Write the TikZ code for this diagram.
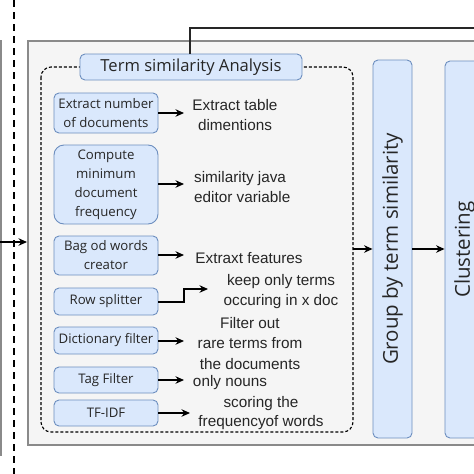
\documentclass[tikz,border=0pt]{standalone}
\usepackage{fontspec}
\setmainfont{Liberation Sans}
\newfontfamily\boxfont{Open Sans}
\usetikzlibrary{arrows.meta}
\definecolor{bfill}{HTML}{DAE8FC}
\definecolor{bline}{HTML}{6C8EBF}
\definecolor{gfill}{HTML}{F5F5F5}
\definecolor{gline}{HTML}{8A8A8A}
\begin{document}
\begin{tikzpicture}[x=1pt,y=-1pt,
  bluebox/.style={draw=bline, fill=bfill, rounded corners=5pt, line width=0.9pt,
    font=\boxfont\fontsize{13.2}{19}\selectfont, align=center, inner sep=0pt, text=black!85},
  lbl/.style={font=\fontsize{15.3}{20.5}\selectfont, align=center, inner sep=0pt, text=black!85},
  arr/.style={-{Stealth[length=8.5pt,width=7.5pt]}, line width=1.3pt},
  vtext/.style={font=\boxfont\fontsize{20.5}{22}\selectfont, rotate=90, text=black!85}]
\useasboundingbox (0,0) rectangle (474,474);
\begin{scope}
\clip (0,0) rectangle (474,474);
% left panel edge
\draw[gline, line width=2pt] (1,40) -- (1,456);
% big gray container
\node[draw=gline, fill=gfill, line width=1.5pt, minimum width=460pt, minimum height=404pt, anchor=north west, inner sep=0pt] (panel) at (27,40) {};
% top connector
\coordinate (tc) at (190,28);
\coordinate (te) at (480,28);
% dashed group
\draw[dashed, dash pattern=on 3pt off 2pt, line width=1.1pt, rounded corners=10pt] (41,67) rectangle (353,432);
\coordinate (grp) at (353,249);
% title
\node[bluebox, font=\boxfont\fontsize{16.6}{18}\selectfont, minimum width=222pt, minimum height=26pt] (title) at (191,67) {Term similarity Analysis};
\draw[line width=1.3pt, black!85] (title.north -| tc) -- (tc) -- (te);
% left boxes
\node[bluebox, minimum width=104pt, minimum height=40pt] (b1) at (106,113) {Extract number\\of documents};
\node[bluebox, rounded corners=10pt, minimum width=104pt, minimum height=79pt] (b2) at (106,184.5) {Compute\\minimum\\document\\frequency};
\node[bluebox, minimum width=104pt, minimum height=39pt] (b3) at (106,255.5) {Bag od words\\creator};
\node[bluebox, minimum width=104pt, minimum height=27pt] (b4) at (106,301.5) {Row splitter};
\node[bluebox, minimum width=104pt, minimum height=27pt] (b5) at (106,340.5) {Dictionary filter};
\node[bluebox, minimum width=104pt, minimum height=26pt] (b6) at (106,380) {Tag Filter};
\node[bluebox, minimum width=104pt, minimum height=26pt] (b7) at (106,413) {TF-IDF};
% labels
\node[lbl] (l1) at (235,115) {Extract table\\dimentions};
\node[lbl, align=left, anchor=west] (l2) at (194,187) {similarity java\\editor variable};
\node[lbl] (l3) at (249,258) {Extraxt features};
\node[lbl] (l4) at (281,291.5) {keep only terms\\occuring in x doc};
\node[lbl] (l5) at (250,343.5) {Filter out\\rare terms from\\the documents};
\node[lbl] (l6) at (230,383) {only nouns};
\node[lbl, font=\fontsize{15.3}{19}\selectfont] (l7) at (261,413.5) {scoring the\\frequencyof words};
% arrow ends
\coordinate (e1) at (184,113);
\coordinate (e2) at (184,184);
\coordinate (e3) at (184,255);
\coordinate (k4) at (184,302);
\coordinate (e4) at (208,289);
\coordinate (e5) at (184,341);
\coordinate (e6) at (184,380);
\coordinate (e7) at (190,413);
\draw[arr] (b1.east |- e1) -- (e1);
\draw[arr] (b2.east |- e2) -- (e2);
\draw[arr] (b3.east |- e3) -- (e3);
\draw[arr] (b4.east |- k4) -- (k4) -- (k4 |- e4) -- (e4);
\draw[arr] (b5.east |- e5) -- (e5);
\draw[arr] (b6.east |- e6) -- (e6);
\draw[arr] (b7.east |- e7) -- (e7);
% right columns
\node[bluebox, minimum width=39pt, minimum height=378pt] (g) at (392.5,249) {};
\node[vtext] (gt) at (g.center) {Group by term similarity};
\node[bluebox, minimum width=39pt, minimum height=377pt] (c) at (464.5,249.5) {};
\node[vtext] (ct) at (c.center) {Clustering};
\draw[arr] (grp) -- (g.west |- grp);
\draw[arr] (g.east |- grp) -- (c.west |- grp);
% incoming arrow from left
\coordinate (in) at (0,242);
\draw[arr] (in) -- (panel.west |- in);
% thick dashed line
\draw[line width=2.5pt, dash pattern=on 7pt off 5pt] (14,0) -- (14,474);
\end{scope}
\end{tikzpicture}
\end{document}
